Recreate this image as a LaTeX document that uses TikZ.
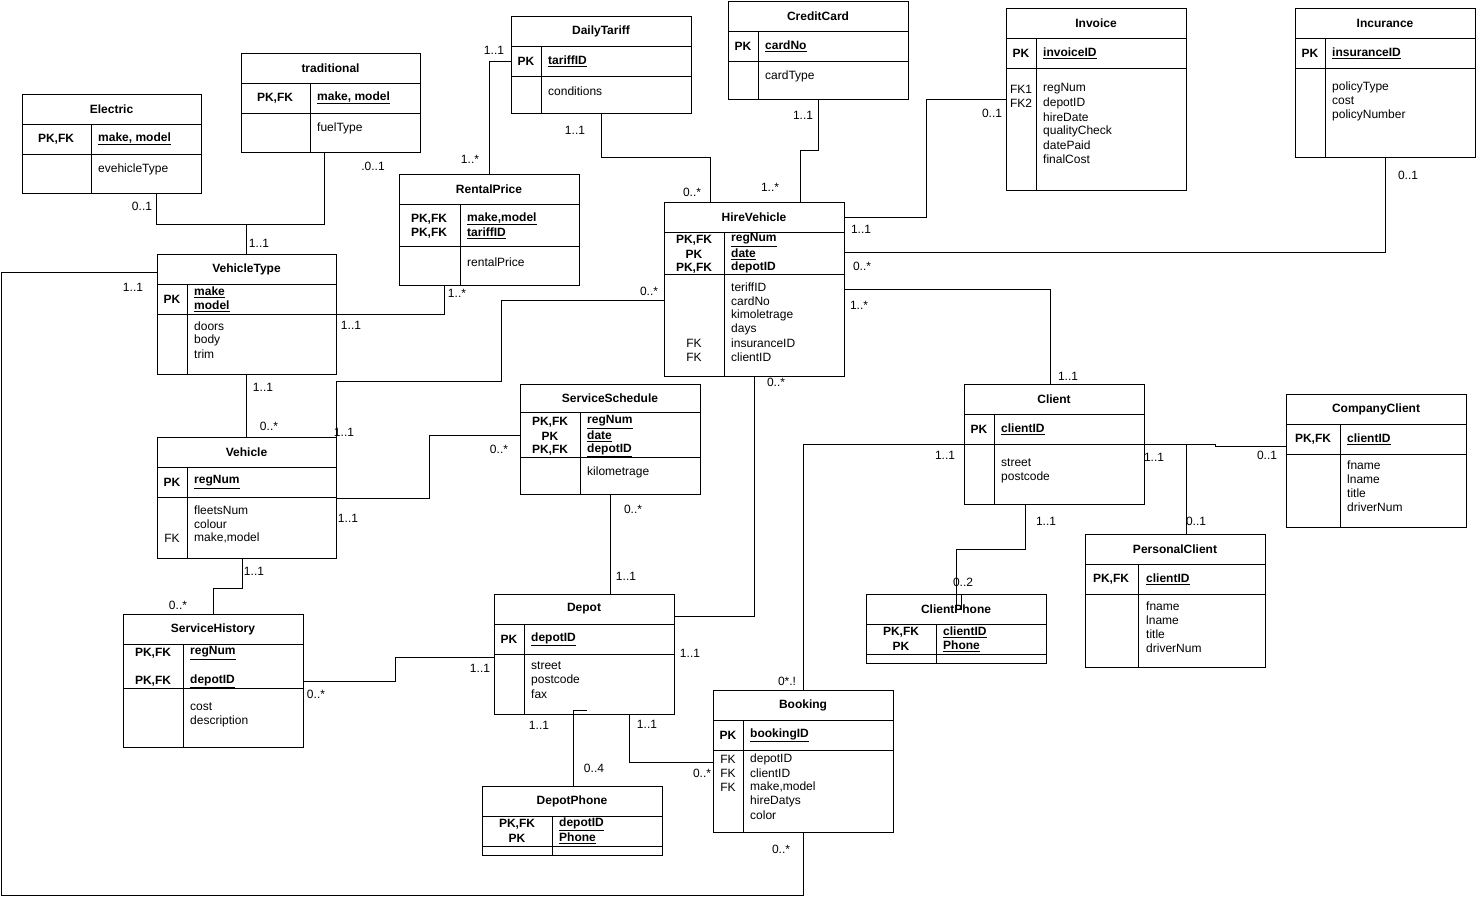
\documentclass[tikz,border=0pt]{standalone}
\usepackage{fontspec}
\setmainfont{Liberation Sans}
\newcommand\entbox[9]{%
 \pgfmathsetmacro\ew{#4-#2}\pgfmathsetmacro\eh{#5-#3}%
 \node[ebox,minimum width=\ew pt,minimum height=\eh pt] (#1) at (#2,#3) {};
 \draw[eline] (#2,#6)--(#4,#6) (#2,#7)--(#4,#7) (#8,#6)--(#8,#5);
 \node[etitle] at ({(#2+#4)/2},{(#3+#6)/2}) {#9};}
\newcommand\ck[3]{\node[txt] at (#1,#2) {#3};}
\newcommand\fl[3]{\node[txt,anchor=west] at (#1,#2) {#3};}
\newcommand\uf[3]{\node[txt,anchor=west] at (#1,#2) {\underline{\textbf{#3}}};}
\newcommand\lb[3]{\node[txt] at (#1,#2) {#3};}
\begin{document}
\begin{tikzpicture}[x=1pt,y=-1pt,
 ebox/.style={draw,line width=0.8pt,anchor=north west,inner sep=0,outer sep=0},
 eline/.style={line width=0.8pt},
 etitle/.style={font=\fontsize{12}{14}\selectfont\bfseries},
 txt/.style={font=\fontsize{12}{14}\selectfont,inner sep=0},
 conn/.style={line width=0.8pt}]
\useasboundingbox (0,0) rectangle (1476,897);
% entities
\entbox{electric}{22}{94}{201}{193}{124}{154}{91}{Electric}
\ck{56}{139}{\textbf{PK,FK}} \uf{98}{139}{make, model} \fl{98}{169}{evehicleType}
\entbox{trad}{241}{53}{420}{152}{83}{113}{310}{traditional}
\ck{275}{98}{\textbf{PK,FK}} \uf{317}{98}{make, model} \fl{317}{128}{fuelType}
\entbox{daily}{511}{16}{691}{113}{46}{76}{541}{DailyTariff}
\ck{526}{61}{\textbf{PK}} \uf{548}{61}{tariffID} \fl{548}{91}{conditions}
\entbox{credit}{728}{1}{908}{99}{31}{61}{758}{CreditCard}
\ck{743}{46}{\textbf{PK}} \uf{765}{46}{cardNo} \fl{765}{76}{cardType}
\entbox{invoice}{1006}{8}{1186}{190}{38}{68}{1036}{Invoice}
\ck{1021}{53}{\textbf{PK}} \uf{1043}{53}{invoiceID}
\ck{1021}{89}{FK1} \ck{1021}{103}{FK2}
\fl{1043}{89}{regNum} \fl{1043}{103}{depotID} \fl{1043}{117}{hireDate}
\fl{1043}{131}{qualityCheck} \fl{1043}{145}{datePaid} \fl{1043}{159}{finalCost}
\entbox{incur}{1295}{8}{1475}{157}{38}{68}{1325}{Incurance}
\ck{1310}{53}{\textbf{PK}} \uf{1332}{53}{insuranceID}
\fl{1332}{87}{policyType} \fl{1332}{101}{cost} \fl{1332}{115}{policyNumber}
\entbox{rental}{399}{174}{579}{285}{204}{246}{460}{RentalPrice}
\ck{429}{219}{\textbf{PK,FK}} \ck{429}{233}{\textbf{PK,FK}}
\uf{467}{219}{make,model} \uf{467}{233}{tariffID} \fl{467}{262}{rentalPrice}
\entbox{hire}{664}{202}{844}{376}{232}{274}{724}{HireVehicle}
\ck{694}{240}{\textbf{PK,FK}} \ck{694}{254}{\textbf{PK}} \ck{694}{268}{\textbf{PK,FK}}
\uf{731}{240}{regNum} \uf{731}{254}{date} \uf{731}{268}{depotID}
\fl{731}{287}{teriffID} \fl{731}{301}{cardNo} \fl{731}{315}{kimoletrage}
\fl{731}{329}{days} \fl{731}{343}{insuranceID} \fl{731}{357}{clientID}
\ck{694}{343}{FK} \ck{694}{357}{FK}
\entbox{vtype}{157}{254}{336}{374}{284}{314}{187}{VehicleType}
\ck{172}{299}{\textbf{PK}} \uf{194}{292}{make} \uf{194}{306}{model}
\fl{194}{326}{doors} \fl{194}{340}{body} \fl{194}{354}{trim}
\entbox{sched}{520}{384}{700}{494}{412}{457}{580}{ServiceSchedule}
\ck{550}{422}{\textbf{PK,FK}} \ck{550}{436}{\textbf{PK}} \ck{550}{450}{\textbf{PK,FK}}
\uf{587}{422}{regNum} \uf{587}{436}{date} \uf{587}{450}{depotID}
\fl{587}{472}{kilometrage}
\entbox{vehicle}{157}{437}{336}{558}{467}{497}{187}{Vehicle}
\ck{172}{482}{\textbf{PK}} \uf{194}{482}{regNum}
\fl{194}{510}{fleetsNum} \fl{194}{524}{colour} \fl{194}{538}{make,model} \ck{172}{538}{FK}
\entbox{client}{964}{384}{1144}{504}{414}{444}{994}{Client}
\ck{979}{429}{\textbf{PK}} \uf{1001}{429}{clientID}
\fl{1001}{463}{street} \fl{1001}{477}{postcode}
\entbox{company}{1286}{394}{1466}{527}{424}{454}{1340}{CompanyClient}
\ck{1313}{439}{\textbf{PK,FK}} \uf{1347}{439}{clientID}
\fl{1347}{465}{fname} \fl{1347}{479}{lname} \fl{1347}{493}{title} \fl{1347}{507}{driverNum}
\entbox{personal}{1085}{534}{1265}{667}{564}{594}{1138}{PersonalClient}
\ck{1111}{579}{\textbf{PK,FK}} \uf{1146}{579}{clientID}
\fl{1146}{606}{fname} \fl{1146}{620}{lname} \fl{1146}{634}{title} \fl{1146}{648}{driverNum}
\entbox{cphone}{866}{594}{1046}{663}{624}{654}{936}{ClientPhone}
\ck{901}{632}{\textbf{PK,FK}} \ck{901}{646}{\textbf{PK}}
\uf{943}{632}{clientID} \uf{943}{646}{Phone}
\entbox{depot}{494}{594}{674}{714}{624}{654}{524}{Depot}
\ck{509}{639}{\textbf{PK}} \uf{531}{639}{depotID}
\fl{531}{666}{street} \fl{531}{680}{postcode} \fl{531}{694}{fax}
\entbox{shist}{123}{614}{303}{747}{644}{688}{183}{ServiceHistory}
\ck{153}{653}{\textbf{PK,FK}} \ck{153}{681}{\textbf{PK,FK}}
\uf{190}{653}{regNum} \uf{190}{681}{depotID}
\fl{190}{707}{cost} \fl{190}{721}{description}
\entbox{dphone}{482}{786}{662}{855}{816}{846}{552}{DepotPhone}
\ck{517}{824}{\textbf{PK,FK}} \ck{517}{838}{\textbf{PK}}
\uf{559}{824}{depotID} \uf{559}{838}{Phone}
\entbox{booking}{713}{690}{893}{832}{720}{750}{743}{Booking}
\ck{728}{735}{\textbf{PK}} \uf{750}{735}{bookingID}
\ck{728}{759}{FK} \ck{728}{773}{FK} \ck{728}{787}{FK}
\fl{750}{759}{depotID} \fl{750}{773}{clientID} \fl{750}{787}{make,model}
\fl{750}{801}{hireDatys} \fl{750}{815}{color}
% connectors
\draw[conn] (156,193)--(156,224)--(246,224)--(246,254);
\draw[conn] (324,152)--(324,224)--(246,224);
\draw[conn] (511,61)--(489,61)--(489,174);
\draw[conn] (601,113)--(601,157)--(710,157)--(710,202);
\draw[conn] (818,99)--(818,150)--(800,150)--(800,202);
\draw[conn] (1006,99)--(926,99)--(926,217)--(844,217);
\draw[conn] (1385,157)--(1385,252)--(844,252);
\draw[conn] (444,285)--(444,314)--(336,314);
\draw[conn] (664,300)--(501,300)--(501,381)--(336,381)--(336,437);
\draw[conn] (246,374)--(246,437);
\draw[conn] (844,289)--(1050,289)--(1050,384);
\draw[conn] (754,376)--(754,616)--(674,616);
\draw[conn] (336,498)--(429,498)--(429,435)--(520,435);
\draw[conn] (610,494)--(610,594);
\draw[conn] (242,558)--(242,588)--(213,588)--(213,614);
\draw[conn] (303,681)--(395,681)--(395,657)--(494,657);
\draw[conn] (587,710)--(573,710)--(573,786);
\draw[conn] (629,714)--(629,762)--(713,762);
\draw[conn] (964,444)--(803,444)--(803,690);
\draw[conn] (803,832)--(803,895)--(1,895)--(1,272)--(157,272);
\draw[conn] (1144,444)--(1215,444)--(1215,446)--(1286,446);
\draw[conn] (1144,444)--(1186,444)--(1186,534);
\draw[conn] (1025,504)--(1025,549)--(956,549)--(956,609)--(961,609)--(961,594);
% labels
\lb{142}{206}{0..1} \lb{259}{243}{1..1} \lb{373}{166}{.0..1}
\lb{494}{50}{1..1} \lb{470}{159}{1..*}
\lb{575}{130}{1..1} \lb{692}{192}{0..*}
\lb{803}{115}{1..1} \lb{770}{187}{1..*}
\lb{992}{113}{0..1} \lb{861}{229}{1..1}
\lb{1408}{175}{0..1} \lb{862}{266}{0..*}
\lb{457}{293}{1..*} \lb{351}{325}{1..1}
\lb{649}{291}{0..*} \lb{344}{432}{1..1}
\lb{263}{387}{1..1} \lb{269}{426}{0..*}
\lb{859}{305}{1..*} \lb{1068}{376}{1..1}
\lb{776}{382}{0..*} \lb{690}{653}{1..1}
\lb{499}{449}{0..*} \lb{348}{518}{1..1}
\lb{633}{509}{0..*} \lb{626}{576}{1..1}
\lb{254}{571}{1..1} \lb{178}{605}{0..*}
\lb{316}{694}{0..*} \lb{480}{668}{1..1}
\lb{539}{725}{1..1} \lb{594}{768}{0..4}
\lb{647}{724}{1..1} \lb{702}{773}{0..*}
\lb{945}{455}{1..1} \lb{787}{681}{0*.!}
\lb{781}{849}{0..*} \lb{133}{287}{1..1}
\lb{1154}{457}{1..1} \lb{1267}{455}{0..1}
\lb{1196}{521}{0..1}
\lb{1046}{521}{1..1} \lb{963}{582}{0..2}
\end{tikzpicture}
\end{document}
